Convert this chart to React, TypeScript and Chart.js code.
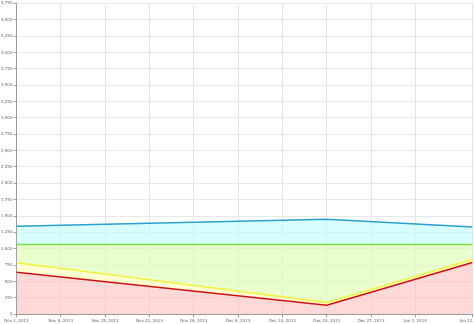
import { useEffect, useRef } from "react";
import { Chart, registerables } from "chart.js";

Chart.register(...registerables);

// Days since Nov 1, 2013
const pointDays = [0, 49, 72];
const redValues = [640, 138, 790];
const yellowValues = [786, 178, 837];
const greenValues = [1065, 1065, 1065];
const blueValues = [1344, 1450, 1332];

const tickDays = [0, 7, 14, 21, 28, 35, 42, 49, 56, 63, 72];
const tickLabels = [
  "Nov 1, 2013",
  "Nov 8, 2013",
  "Nov 15, 2013",
  "Nov 22, 2013",
  "Nov 29, 2013",
  "Dec 6, 2013",
  "Dec 13, 2013",
  "Dec 20, 2013",
  "Dec 27, 2013",
  "Jan 3, 2014",
  "Jan 12, 2014",
];

const yMax = 4750;
const yMajor = 250;
const yMinor = 50;

export default function App() {
  const ref = useRef<HTMLCanvasElement>(null);
  useEffect(() => {
    document.body.style.margin = "0";
    const toPts = (vals: number[]) => pointDays.map((d, i) => ({ x: d, y: vals[i] }));
    const chart = new Chart(ref.current!, {
      type: "line",
      data: {
        datasets: [
          {
            label: "red",
            data: toPts(redValues),
            borderColor: "#cc1111",
            backgroundColor: "rgba(255,190,190,0.6)",
            fill: "origin",
            borderWidth: 1.5,
            pointRadius: 0,
            tension: 0,
          },
          {
            label: "yellow",
            data: toPts(yellowValues),
            borderColor: "#f2f23a",
            backgroundColor: "rgba(255,255,190,0.7)",
            fill: "-1",
            borderWidth: 1.5,
            pointRadius: 0,
            tension: 0,
          },
          {
            label: "green",
            data: toPts(greenValues),
            borderColor: "#77dd44",
            backgroundColor: "rgba(225,255,185,0.7)",
            fill: "-1",
            borderWidth: 1.5,
            pointRadius: 0,
            tension: 0,
          },
          {
            label: "blue",
            data: toPts(blueValues),
            borderColor: "#2a9fd0",
            backgroundColor: "rgba(200,255,255,0.7)",
            fill: "-1",
            borderWidth: 1.5,
            pointRadius: 0,
            tension: 0,
          },
        ],
      },
      options: {
        animation: false,
        responsive: false,
        layout: { padding: { left: 0, right: 0, top: 1, bottom: 0 } },
        plugins: { legend: { display: false }, tooltip: { enabled: false } },
        scales: {
          x: {
            type: "linear",
            min: tickDays[0],
            max: tickDays[tickDays.length - 1],
            afterBuildTicks: (axis: any) => {
              axis.ticks = tickDays.map((v) => ({ value: v }));
            },
            ticks: {
              autoSkip: false,
              maxRotation: 0,
              padding: 1,
              color: "#666",
              font: { family: "DejaVu Sans", size: 4 },
              callback: (v: any) => {
                const i = tickDays.indexOf(Number(v));
                return i >= 0 ? tickLabels[i] : "";
              },
            },
            grid: { color: "#e4e4e4", tickColor: "#999", tickLength: 3, lineWidth: 1 },
            border: { color: "#999" },
          },
          y: {
            min: 0,
            max: yMax,
            afterBuildTicks: (axis: any) => {
              const t = [];
              for (let v = 0; v <= yMax; v += yMinor) t.push({ value: v });
              axis.ticks = t;
            },
            ticks: {
              autoSkip: false,
              padding: 1,
              color: "#666",
              font: { family: "DejaVu Sans", size: 4 },
              callback: (v: any) =>
                Number(v) % yMajor === 0 ? Number(v).toLocaleString("en-US") : null,
            },
            grid: {
              color: (c: any) => (c.tick && c.tick.value % yMajor === 0 ? "#e8e8e8" : "rgba(0,0,0,0)"),
              tickColor: "#aaa",
              tickLength: 3,
            },
            border: { color: "#999" },
          },
        },
      },
    });
    return () => chart.destroy();
  }, []);
  return (
    <div style={{ width: 474, height: 324, overflow: "hidden" }}>
      <canvas ref={ref} width={486} height={324} style={{ display: "block" }} />
    </div>
  );
}
